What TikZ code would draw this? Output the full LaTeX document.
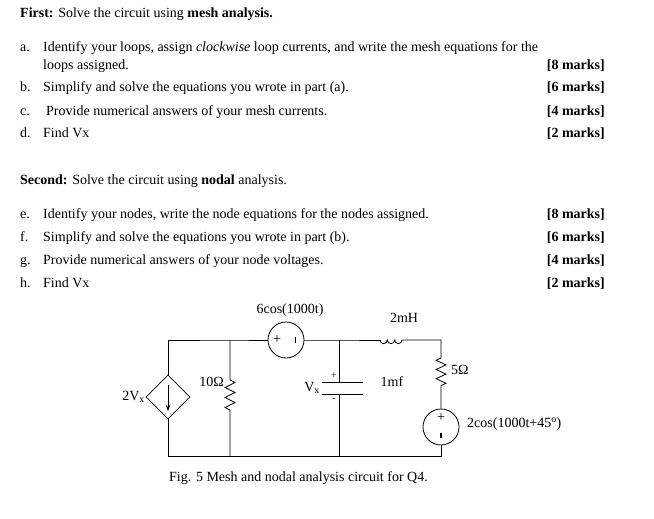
\documentclass[tikz,border=0pt]{standalone}
\usepackage{fontspec}
\setmainfont{Liberation Serif}
\usetikzlibrary{shapes.geometric,arrows.meta}
\begin{document}
\begin{tikzpicture}
[x=1pt,y=-1pt,
 txt/.style ={anchor=base west, inner sep=0pt, font=\fontsize{14}{16}\selectfont},
 marks/.style ={anchor=base east, inner sep=0pt, font=\fontsize{14}{16}\selectfont\bfseries},
 lbl/.style ={inner sep=1pt, font=\fontsize{14}{16}\selectfont},
 src/.style ={circle, draw, thick, minimum size=36pt, inner sep=0pt},
 dep/.style ={diamond, draw, thick, minimum size=44pt, inner sep=0pt},
 wire/.style ={draw, thick}]
\useasboundingbox (0,0) rectangle (654,519);
% questions
\node[txt] (t0) at (20,18) {\textbf{First:} Solve the circuit using \textbf{mesh analysis.}};
\node[txt] (qa) at (20,52) {a.};
\node[txt] (ta) at (43,52) {Identify your loops, assign \textit{clockwise} loop currents, and write the mesh equations for the};
\node[txt] (ta2) at (43,70) {loops assigned.};
\node[marks] (ma) at (605,70) {[8 marks]};
\node[txt] (qb) at (20,92) {b.};
\node[txt] (tb) at (43,92) {Simplify and solve the equations you wrote in part (a).};
\node[marks] (mb) at (605,92) {[6 marks]};
\node[txt] (qc) at (20,115) {c.};
\node[txt] (tq) at (46,115) {Provide numerical answers of your mesh currents.};
\node[marks] (mc) at (605,115) {[4 marks]};
\node[txt] (qd) at (20,137) {d.};
\node[txt] (td) at (43,137) {Find Vx};
\node[marks] (md) at (605,137) {[2 marks]};
\node[txt] (t1) at (20,184) {\textbf{Second:} Solve the circuit using \textbf{nodal} analysis.};
\node[txt] (qe) at (20,218) {e.};
\node[txt] (te) at (43,218) {Identify your nodes, write the node equations for the nodes assigned.};
\node[marks] (me) at (605,218) {[8 marks]};
\node[txt] (qf) at (20,241) {f.};
\node[txt] (tf) at (43,241) {Simplify and solve the equations you wrote in part (b).};
\node[marks] (mf) at (605,241) {[6 marks]};
\node[txt] (qg) at (20,264) {g.};
\node[txt] (tg) at (43,264) {Provide numerical answers of your node voltages.};
\node[marks] (mg) at (605,264) {[4 marks]};
\node[txt] (qh) at (20,287) {h.};
\node[txt] (th) at (43,287) {Find Vx};
\node[marks] (mh) at (605,287) {[2 marks]};
% circuit
\coordinate (tl) at (168,340);
\coordinate (bl) at (168,456);
\coordinate (tr) at (230,340);
\coordinate (br) at (230,456);
\coordinate (tc) at (339,340);
\coordinate (bc) at (339,456);
\coordinate (tR) at (441,340);
\coordinate (bR) at (441,456);
\coordinate (l1) at (380,340);
\coordinate (r1) at (230,378);
\coordinate (r2) at (230,412);
\coordinate (s1) at (441,356);
\coordinate (s2) at (441,388);
\coordinate (c1) at (339,382);
\coordinate (c2) at (339,394);
\node[dep] (cs) at (168,397) {};
\node[src] (vs) at (286,340) {};
\node[src] (vr) at (441,427) {};
\draw[wire] (cs) -- (tl) -- (tr) -- (vs) -- (tc) -- (l1);
\draw[wire] (l1) arc (180:0:3.67) arc (180:0:3.67) arc (180:0:3.67) -- (tR) -- (s1);
\draw[wire] (s1) -- ++(0,2) -- ++(-5,2.3) -- ++(10,4.6) -- ++(-10,4.6) -- ++(10,4.6) -- ++(-10,4.6) -- ++(10,4.6) -- ++(-5,2.3) -- (s2) -- (vr);
\draw[wire] (cs) -- (bl) -- (bR) -- (vr);
\draw[wire] (tr) -- (r1) -- ++(0,2) -- ++(5,2.5) -- ++(-10,5) -- ++(10,5) -- ++(-10,5) -- ++(10,5) -- ++(-10,5) -- ++(5,2.5) -- (r2) -- (br);
\draw[wire] (tc) -- (c1) (c2) -- (bc);
\draw[wire] (322,382) -- (363,382) (322,394) -- (363,394);
\draw[-{Stealth[length=6pt]}, thick] (168,385) -- (168,411);
\node[lbl] (pv) at (277,340) {+};
\draw[thick] (295,337) -- (295,343);
\node[lbl] (pr) at (441,418) {+};
\draw[line width=1.5pt] (441,433) -- (441,438);
\node[lbl, font=\fontsize{10}{12}\selectfont] (pc) at (334,376) {+};
\node[lbl, font=\fontsize{10}{12}\selectfont] (mcp) at (334,400) {-};
% labels
\node[lbl] (lsrc) at (290,310) {6cos(1000t)};
\node[lbl] (lind) at (404,318) {2mH};
\node[lbl, anchor=east] (lres) at (225,382) {10Ω};
\node[lbl, anchor=west] (lr5) at (450,370) {5Ω};
\node[lbl] (lcap) at (392,382) {1mf};
\node[lbl, anchor=east] (lvx) at (321,388) {V\textsubscript{x}};
\node[lbl, anchor=east] (ldep) at (146,397) {2V\textsubscript{x}};
\node[lbl, anchor=west] (lvr) at (466,424) {2cos(1000t+45\textsuperscript{o})};
\node[txt] (cap) at (169,481) {Fig. 5 Mesh and nodal analysis circuit for Q4.};
\end{tikzpicture}
\end{document}
